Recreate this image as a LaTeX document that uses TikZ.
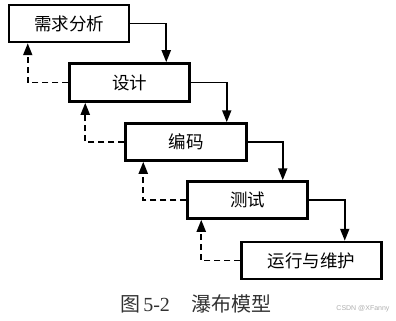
\documentclass[tikz,border=0pt]{standalone}
\usepackage{fontspec}
\setmainfont{Liberation Serif}
\newfontfamily\cjk{Noto Sans CJK SC}
\newfontfamily\wmfont{Liberation Sans}
\usepackage{tikz}
\usetikzlibrary{arrows.meta, calc}
\definecolor{wmG}{RGB}{175,175,175}
\definecolor{capK}{RGB}{50,50,50}

\begin{document}
\begin{tikzpicture}[x=1pt, y=-1pt,
  stage/.style={draw, line width=2.5pt, inner sep=0pt, minimum height=37pt,
    font=\cjk\fontsize{17.5}{17.5}\selectfont},
  flow/.style={line width=1.8pt, -{Triangle[width=9pt,length=12pt]}},
  back/.style={flow, dash pattern=on 6pt off 4pt}]
  \useasboundingbox (0,0) rectangle (396,321);
  \node[stage, minimum width=120pt] (req) at (69,23.5) {需求分析};
  \node[stage, minimum width=120pt, minimum height=38pt] (des) at (129.5,82.5) {设计};
  \node[stage, minimum width=121pt] (code) at (186,142) {编码};
  \node[stage, minimum width=120pt] (test) at (247.5,200) {测试};
  \node[stage, minimum width=140pt] (ops) at (311.5,260.5) {运行与维护};
  \draw[flow] (req.east) -| ($(req.east |- des.north)+(36,0)$);
  \draw[flow] (des.east) -| ($(des.east |- code.north)+(36,0)$);
  \draw[flow] (code.east) -| ($(code.east |- test.north)+(35,0)$);
  \draw[flow] (test.east) -| ($(test.east |- ops.north)+(36,0)$);
  \draw[back] (des.west) -| ([xshift=20pt]req.south west);
  \draw[back] (code.west) -| ([xshift=17pt]des.south west);
  \draw[back] (test.west) -| ([xshift=19pt]code.south west);
  \draw[back] (ops.west) -| ([xshift=15pt]test.south west);
  \node[font=\fontsize{20}{20}\selectfont, text=capK] (cap) at (196,304)
    {{\cjk 图}\,5-2\hspace{22pt}{\cjk 瀑布模型}};
  \node[font=\wmfont\fontsize{7}{7}\selectfont, text=wmG, anchor=east] (mark) at (393,309) {CSDN @XFanny};
\end{tikzpicture}
\end{document}
